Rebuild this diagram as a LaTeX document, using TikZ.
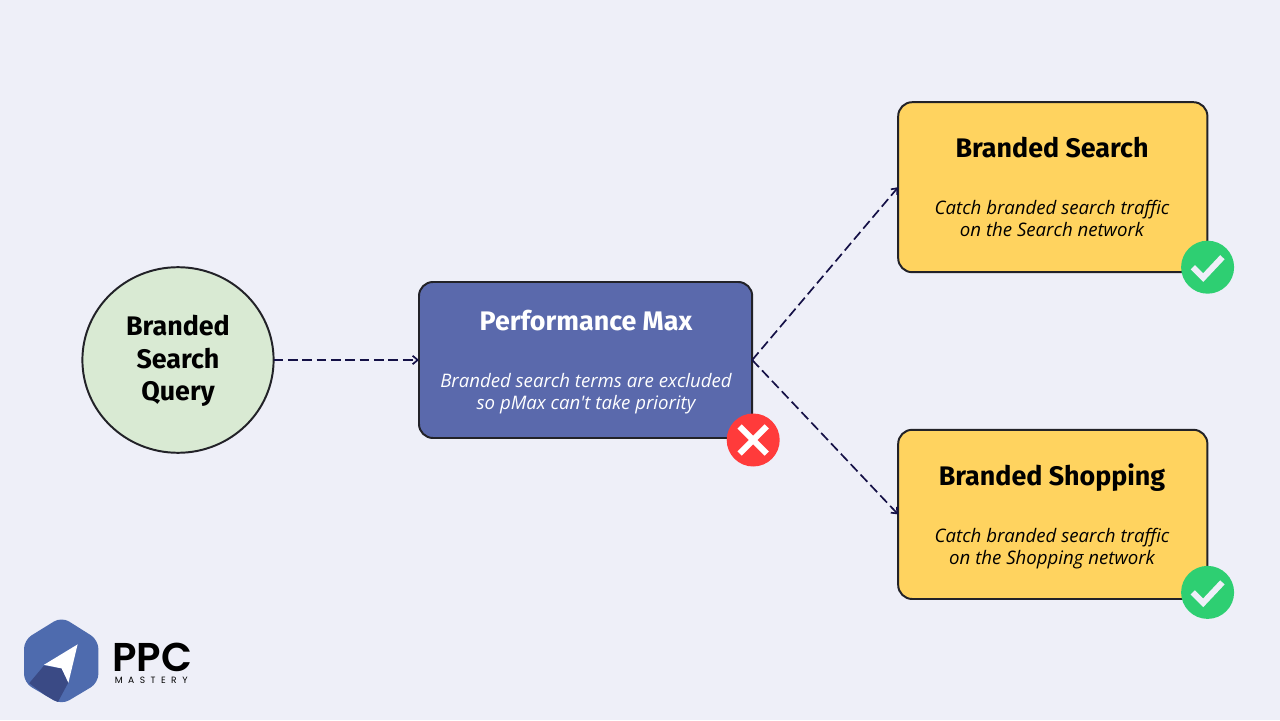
\documentclass[tikz,border=0pt]{standalone}
\usepackage{fontspec}
\usetikzlibrary{shapes.geometric,arrows.meta}
\setmainfont{Fira Sans}
\newfontfamily\descfont{Open Sans}
\newfontfamily\logofont{Poppins SemiBold}
\newfontfamily\logosmall[LetterSpace=60]{Poppins}
\definecolor{paper}{RGB}{238, 239, 248}
\definecolor{outline}{RGB}{34, 34, 40}
\definecolor{wire}{RGB}{20, 16, 70}
\definecolor{mint}{RGB}{217, 234, 211}
\definecolor{indigo}{RGB}{90, 105, 172}
\definecolor{sunflower}{RGB}{255, 211, 95}
\definecolor{alarm}{RGB}{255, 59, 59}
\definecolor{emerald}{RGB}{46, 207, 114}
\definecolor{logoblue}{RGB}{78, 107, 174}
\definecolor{logodark}{RGB}{58, 74, 133}
\tikzset{
    cardbox/.style={draw=outline, line width=1.4pt, rounded corners=0.35cm, outer sep=0pt, inner sep=0pt},
    cardtitle/.style={font=\fontsize{19.1}{24}\selectfont\bfseries, anchor=center},
    carddesc/.style={font=\descfont\itshape\fontsize{13.25}{15.8}\selectfont, align=center, anchor=center},
    flowline/.style={wire, line width=1.2pt, dash pattern=on 7pt off 3.2pt, -{Straight Barb[length=3.6pt,width=6pt]}},
    badge/.style={circle, minimum size=1.325cm, inner sep=0pt, outer sep=0pt},
    badgemark/.style={line width=4.3pt}
}
\begin{document}
\begin{tikzpicture}
    \useasboundingbox (0.00, 0.00) rectangle (32.00, 18.00);
    \fill[paper] (0.00, 0.00) rectangle (32.00, 18.00);

    % main nodes
    \node[ellipse, draw=outline, fill=mint, line width=1.4pt, minimum width=4.78cm, minimum height=4.64cm, outer sep=0pt, inner sep=0pt] (query) at (4.45, 9.00) {};
    \node[font=\fontsize{19.1}{22.8}\selectfont\bfseries, align=center] (querytext) at (4.45, 8.98) {Branded\\Search\\Query};
    \node[cardbox, fill=indigo,    minimum width=8.33cm, minimum height=3.90cm] (pmax)     at (14.64,  9.00) {};
    \node[cardbox, fill=sunflower, minimum width=7.73cm, minimum height=4.25cm] (search)   at (26.32, 13.32) {};
    \node[cardbox, fill=sunflower, minimum width=7.73cm, minimum height=4.23cm] (shopping) at (26.32,  5.14) {};

    % card texts
    \node[cardtitle, white] (pmaxtitle)     at (14.65, 9.99) {Performance Max};
    \node[carddesc,  white] (pmaxdesc)      at (14.65, 8.16) {Branded search terms are excluded\\so pMax can't take priority};
    \node[cardtitle]        (searchtitle)   at (26.30, 14.30) {Branded Search};
    \node[carddesc]         (searchdesc)    at (26.30, 12.53) {Catch branded search traffic\\on the Search network};
    \node[cardtitle]        (shoppingtitle) at (26.30, 6.05) {Branded Shopping};
    \node[carddesc]         (shoppingdesc)  at (26.30, 4.29) {Catch branded search traffic\\on the Shopping network};

    % connectors
    \draw[flowline] (query.east) -- (pmax.west);
    \draw[flowline] (pmax.east) -- (search.west);
    \draw[flowline] (pmax.east) -- (shopping.west);

    % badges
    \node[badge, fill=alarm]   (pmaxbadge)     at (18.83,  7.00) {};
    \node[badge, fill=emerald] (searchbadge)   at (30.19, 11.32) {};
    \node[badge, fill=emerald] (shoppingbadge) at (30.19,  3.19) {};
    \draw[badgemark, white] ([shift={(-0.34, 0.34)}]pmaxbadge.center) -- ([shift={( 0.34,-0.34)}]pmaxbadge.center);
    \draw[badgemark, white] ([shift={(-0.34,-0.34)}]pmaxbadge.center) -- ([shift={( 0.34, 0.34)}]pmaxbadge.center);
    \draw[badgemark, paper] ([shift={(-0.37, 0.00)}]searchbadge.center) -- ([shift={(-0.11,-0.26)}]searchbadge.center) -- ([shift={(0.37, 0.25)}]searchbadge.center);
    \draw[badgemark, paper] ([shift={(-0.37, 0.00)}]shoppingbadge.center) -- ([shift={(-0.11,-0.26)}]shoppingbadge.center) -- ([shift={(0.37, 0.25)}]shoppingbadge.center);

    % logo
    \begin{scope}
        \clip[rounded corners=0.22cm] (1.54, 2.58) -- (2.46, 2.00) -- (2.46, 0.93) -- (1.54, 0.38) -- (0.60, 0.93) -- (0.60, 2.00) -- cycle;
        \fill[logoblue] (0.40, 0.30) rectangle (2.60, 2.60);
        \fill[logodark] (1.10, 1.36) -- (1.54, 1.29) -- (1.71, 0.94) -- (1.42, 0.40) -- (0.73, 0.92) -- cycle;
    \end{scope}
    \fill[white] (1.94, 1.89) -- (1.10, 1.38) -- (1.54, 1.29) -- (1.71, 0.93) -- cycle;
    \node[font=\logofont\fontsize{28.6}{28.6}\selectfont, anchor=center, inner sep=0pt] (logoname) at (3.81, 1.56) {PPC};
    \node[font=\logosmall\fontsize{6.5}{7}\selectfont, anchor=center, inner sep=0pt] (logosub) at (3.78, 0.98) {MASTERY};
\end{tikzpicture}
\end{document}
